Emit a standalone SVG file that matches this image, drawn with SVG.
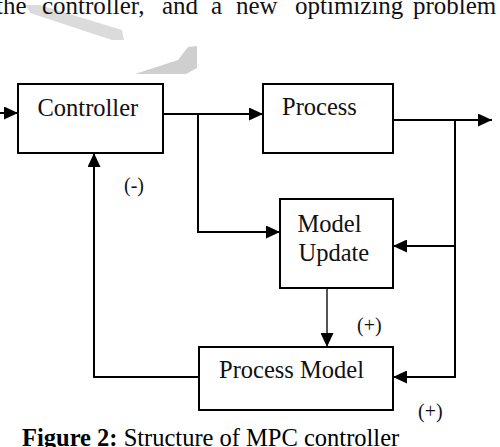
<svg xmlns="http://www.w3.org/2000/svg" width="500" height="447" viewBox="0 0 500 447">
<style>
.box{fill:#fff;stroke:#000;stroke-width:2}
.lbl{font-family:"Liberation Serif","Times New Roman",serif;font-size:24.5px;fill:#111}
.sgn{font-family:"Liberation Serif","Times New Roman",serif;font-size:20px;fill:#111}
.body{font-family:"Liberation Serif","Times New Roman",serif;font-size:25px;fill:#111}
.cap{font-family:"Liberation Serif","Times New Roman",serif;font-size:24.5px;fill:#000}
.wire{fill:none;stroke:#000;stroke-width:2}
.grey{stroke:#555}
</style>
<defs>
<marker id="ah" markerUnits="userSpaceOnUse" markerWidth="14" markerHeight="13" refX="14" refY="6.5" orient="auto">
<path d="M0,0 L14,6.5 L0,13 Z" fill="#000"/>
</marker>
</defs>
<rect width="500" height="447" fill="#fff"/>
<g id="watermark" fill="#cfcfcf">
<path d="M26,5 L40,5 L122,30 L124,40 L112,40 L30,13 Z" opacity="0.75"/>
<path d="M135,74 L178,60 L188,47 L197,46 L197,68 L186,74 Z"/>
</g>
<g id="page-text">
<text class="body" y="13.5"><tspan x="-4">the</tspan><tspan x="42">controller,</tspan><tspan x="162">and</tspan><tspan x="211">a</tspan><tspan x="236">new</tspan><tspan x="295">optimizing</tspan><tspan x="413">problem</tspan></text>
</g>
<g id="connectors">
<path class="wire" d="M0,113 H18" marker-end="url(#ah)"/>
<path class="wire" d="M163,114 H263" marker-end="url(#ah)"/>
<path class="wire" d="M198,114 V232 H280" marker-end="url(#ah)"/>
<path class="wire" d="M393,120 H492" marker-end="url(#ah)"/>
<path class="wire" d="M455,120 V377 H393" marker-end="url(#ah)"/>
<path class="wire" d="M455,246 H393" marker-end="url(#ah)"/>
<path class="wire grey" d="M327,288 V347" marker-end="url(#ah)"/>
<path class="wire" d="M199,377 H94 V153" marker-end="url(#ah)"/>
<text class="sgn" x="124" y="192">(-)</text>
<text class="sgn" x="357" y="332">(+)</text>
<text class="sgn" x="418" y="418">(+)</text>
</g>
<g id="controller">
<rect class="box" x="18" y="84" width="145" height="69"/>
<text class="lbl" x="37.5" y="115.5">Controller</text>
</g>
<g id="process">
<rect class="box" x="263" y="84" width="130" height="69"/>
<text class="lbl" x="282" y="115">Process</text>
</g>
<g id="model-update">
<rect class="box" x="280" y="199" width="113" height="89"/>
<text class="lbl" x="297.5" y="231.5">Model</text>
<text class="lbl" x="298.5" y="260.5">Update</text>
</g>
<g id="process-model">
<rect class="box" x="199" y="347" width="194" height="63"/>
<text class="lbl" x="219" y="378">Process Model</text>
</g>
<g id="caption">
<text class="cap" x="22" y="446"><tspan font-weight="bold">Figure 2:</tspan> Structure of MPC controller</text>
</g>
</svg>
